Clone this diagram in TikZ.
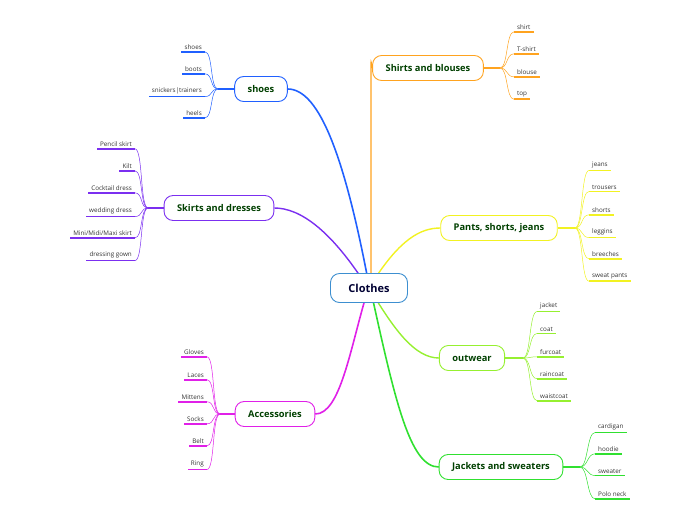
\documentclass[tikz,border=0pt]{standalone}
\usepackage{fontspec}
\setmainfont{Open Sans}
\begin{document}
\begin{tikzpicture}[x=1pt,y=-1pt,
  br/.style={draw,rounded corners=9pt,line width=0.9pt,minimum height=25pt,inner xsep=13pt,font=\fontsize{9.3}{11}\selectfont\bfseries,text=green!25!black,fill=white},
  leaf/.style={inner xsep=3pt,inner ysep=2.2pt,font=\fontsize{6.3}{7}\selectfont,text=black!80},
  ul/.style={line width=1.7pt},
  tw/.style={line width=0.5pt}]
\useasboundingbox (0,0) rectangle (696,520);
\definecolor{cO}{HTML}{FFA31F}\definecolor{cY}{HTML}{F2F222}\definecolor{cL}{HTML}{96F030}
\definecolor{cG}{HTML}{30E030}\definecolor{cB}{HTML}{2060FF}\definecolor{cP}{HTML}{7B2FF0}
\definecolor{cM}{HTML}{E020E8}\definecolor{cC}{HTML}{3D8FD0}
% branches
\node[br,draw=cO] (shi) at (428,68) {Shirts and blouses};
\node[br,draw=cY] (pan) at (499,228) {Pants, shorts, jeans};
\node[br,draw=cL] (out) at (472,358) {outwear};
\node[br,draw=cG] (jac) at (501,467) {Jackets and sweaters};
\node[br,draw=cB] (sho) at (261,89) {shoes};
\node[br,draw=cP] (ski) at (219,208) {Skirts and dresses};
\node[br,draw=cM] (acc) at (275,414) {Accessories};
% main connectors
\draw[cO,line width=1.4pt] (371,280) -- (371,72) .. controls (371,60) .. (shi.west);
\draw[cY,line width=1.4pt] (374,280) .. controls (400,240) and (420,228) .. (pan.west);
\draw[cL,line width=1.4pt] (374,296) .. controls (395,330) and (415,358) .. (out.west);
\draw[cG,line width=1.6pt] (372,296) .. controls (395,400) and (410,467) .. (jac.west);
\draw[cB,line width=1.6pt] (368,280) .. controls (345,160) and (320,89) .. (sho.east);
\draw[cP,line width=1.4pt] (364,282) .. controls (330,230) and (300,208) .. (ski.east);
\draw[cM,line width=1.6pt] (366,296) .. controls (350,350) and (340,414) .. (acc.east);
\node[draw=cC,line width=0.9pt,rounded corners=9pt,minimum width=77pt,minimum height=29pt,fill=white,
  font=\fontsize{11}{12}\selectfont\bfseries,text=blue!20!black] (cl) at (369,288) {Clothes};
% right leaves
\coordinate (jsh) at (500,68); \draw[cO,line width=1.3pt] (shi.east) -- (jsh);
\foreach \t/\y [count=\i] in {shirt/27,T-shirt/49,blouse/72,top/94}{
  \node[leaf,anchor=west] (sh\i) at (514,\y) {\t};
  \draw[cO,tw] (jsh) .. controls +(8,0) and +(-8,0) .. (sh\i.south west);
  \draw[cO,ul] (sh\i.south west) -- (sh\i.south east);}
\coordinate (jpa) at (575,228); \draw[cY,line width=1.3pt] (pan.east) -- (jpa);
\foreach \t/\y [count=\i] in {jeans/165,trousers/187,shorts/210,leggins/232,breeches/254,sweat pants/276}{
  \node[leaf,anchor=west] (pa\i) at (589,\y) {\t};
  \draw[cY,tw] (jpa) .. controls +(8,0) and +(-8,0) .. (pa\i.south west);
  \draw[cY,ul] (pa\i.south west) -- (pa\i.south east);}
\coordinate (jou) at (523,358); \draw[cL,line width=1.3pt] (out.east) -- (jou);
\foreach \t/\y [count=\i] in {jacket/306,coat/329,furcoat/352,raincoat/374,waistcoat/396}{
  \node[leaf,anchor=west] (ou\i) at (537,\y) {\t};
  \draw[cL,tw] (jou) .. controls +(8,0) and +(-8,0) .. (ou\i.south west);
  \draw[cL,ul] (ou\i.south west) -- (ou\i.south east);}
\coordinate (jja) at (580,467); \draw[cG,line width=1.3pt] (jac.east) -- (jja);
\foreach \t/\y [count=\i] in {cardigan/427,hoodie/449,sweater/471,Polo neck/494}{
  \node[leaf,anchor=west] (ja\i) at (595,\y) {\t};
  \draw[cG,tw] (jja) .. controls +(8,0) and +(-8,0) .. (ja\i.south west);
  \draw[cG,ul] (ja\i.south west) -- (ja\i.south east);}
% left leaves
\coordinate (jsn) at (218,89); \draw[cB,line width=1.3pt] (sho.west) -- (jsn);
\foreach \t/\y [count=\i] in {shoes/47,boots/69,snickers|trainers/91,heels/113}{
  \node[leaf,anchor=east] (sn\i) at (205,\y) {\t};
  \draw[cB,tw] (jsn) .. controls +(-8,0) and +(8,0) .. (sn\i.south east);
  \draw[cB,ul] (sn\i.south east) -- (sn\i.south west);}
\coordinate (jsk) at (148,208); \draw[cP,line width=1.3pt] (ski.west) -- (jsk);
\foreach \t/\y [count=\i] in {Pencil skirt/144,Kilt/166,Cocktail dress/188,wedding dress/211,{Mini/Midi/Maxi skirt}/233,dressing gown/255}{
  \node[leaf,anchor=east] (sk\i) at (135,\y) {\t};
  \draw[cP,tw] (jsk) .. controls +(-8,0) and +(8,0) .. (sk\i.south east);
  \draw[cP,ul] (sk\i.south east) -- (sk\i.south west);}
\coordinate (jac2) at (220,414); \draw[cM,line width=1.3pt] (acc.west) -- (jac2);
\foreach \t/\y [count=\i] in {Gloves/352,Laces/375,Mittens/397,Socks/419,Belt/441,Ring/464}{
  \node[leaf,anchor=east] (ac\i) at (207,\y) {\t};
  \draw[cM,tw] (jac2) .. controls +(-8,0) and +(8,0) .. (ac\i.south east);
  \draw[cM,ul] (ac\i.south east) -- (ac\i.south west);}
\end{tikzpicture}
\end{document}
